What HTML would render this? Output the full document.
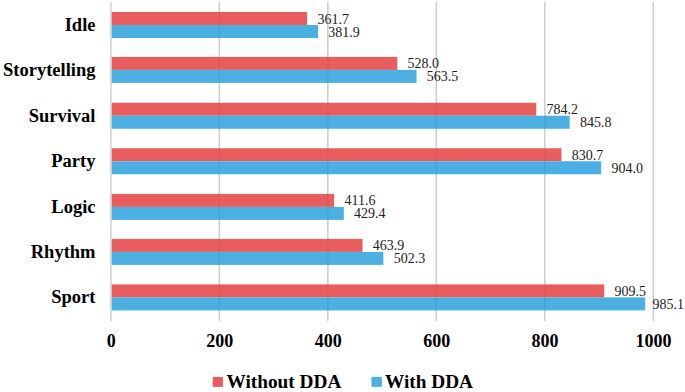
<!DOCTYPE html>
<html><head><meta charset="utf-8"><style>
html,body{margin:0;padding:0;background:#fff;}
body{width:685px;height:392px;overflow:hidden;}
svg{display:block;}
text{font-family:"Liberation Serif",serif;fill:#000;}
.cat{font-weight:bold;font-size:18.5px;text-anchor:end;}
.tick{font-weight:bold;font-size:18px;text-anchor:middle;}
.leg{font-weight:bold;font-size:19.3px;}
.dl{font-size:14px;fill:#222;}
</style></head><body>
<svg width="685" height="392" viewBox="0 0 685 392">
<rect x="218.63" y="2.0" width="1.5" height="319.0" fill="#D9D9D9"/>
<rect x="327.11" y="2.0" width="1.5" height="319.0" fill="#D9D9D9"/>
<rect x="435.59" y="2.0" width="1.5" height="319.0" fill="#D9D9D9"/>
<rect x="544.07" y="2.0" width="1.5" height="319.0" fill="#D9D9D9"/>
<rect x="652.55" y="2.0" width="1.5" height="319.0" fill="#D9D9D9"/>
<rect x="110.90" y="12.00" width="196.19" height="13.00" fill="#E95D5F"/>
<rect x="110.90" y="25.00" width="207.14" height="13.00" fill="#4CAFE1"/>
<rect x="110.90" y="56.90" width="286.39" height="13.00" fill="#E95D5F"/>
<rect x="110.90" y="69.90" width="305.64" height="13.00" fill="#4CAFE1"/>
<rect x="110.90" y="102.75" width="425.35" height="13.00" fill="#E95D5F"/>
<rect x="110.90" y="115.75" width="458.76" height="13.00" fill="#4CAFE1"/>
<rect x="110.90" y="148.25" width="450.57" height="13.00" fill="#E95D5F"/>
<rect x="110.90" y="161.25" width="490.33" height="13.00" fill="#4CAFE1"/>
<rect x="110.90" y="193.90" width="223.25" height="13.00" fill="#E95D5F"/>
<rect x="110.90" y="206.90" width="232.91" height="13.00" fill="#4CAFE1"/>
<rect x="110.90" y="238.90" width="251.62" height="13.00" fill="#E95D5F"/>
<rect x="110.90" y="251.90" width="272.45" height="13.00" fill="#4CAFE1"/>
<rect x="110.90" y="284.40" width="493.31" height="13.00" fill="#E95D5F"/>
<rect x="110.90" y="297.40" width="534.32" height="13.00" fill="#4CAFE1"/>
<rect x="218.63" y="2.0" width="1.5" height="319.0" fill="#000" fill-opacity="0.06"/>
<rect x="327.11" y="2.0" width="1.5" height="319.0" fill="#000" fill-opacity="0.06"/>
<rect x="435.59" y="2.0" width="1.5" height="319.0" fill="#000" fill-opacity="0.06"/>
<rect x="544.07" y="2.0" width="1.5" height="319.0" fill="#000" fill-opacity="0.06"/>
<rect x="652.55" y="2.0" width="1.5" height="319.0" fill="#000" fill-opacity="0.06"/>
<rect x="110.00" y="2.0" width="1.8" height="319.0" fill="#D9D9D9"/>
<text class="dl" x="317.39" y="23.50">361.7</text>
<text class="dl" x="328.34" y="36.50">381.9</text>
<text class="dl" x="407.59" y="68.40">528.0</text>
<text class="dl" x="426.84" y="81.40">563.5</text>
<text class="dl" x="546.55" y="114.25">784.2</text>
<text class="dl" x="579.96" y="127.25">845.8</text>
<text class="dl" x="571.77" y="159.75">830.7</text>
<text class="dl" x="611.53" y="172.75">904.0</text>
<text class="dl" x="344.45" y="205.40">411.6</text>
<text class="dl" x="354.11" y="218.40">429.4</text>
<text class="dl" x="372.82" y="250.40">463.9</text>
<text class="dl" x="393.65" y="263.40">502.3</text>
<text class="dl" x="614.51" y="295.90">909.5</text>
<text class="dl" x="652.50" y="308.90">985.1</text>
<text class="cat" x="95.5" y="31.00">Idle</text>
<text class="cat" x="95.5" y="75.90">Storytelling</text>
<text class="cat" x="95.5" y="121.75">Survival</text>
<text class="cat" x="95.5" y="167.25">Party</text>
<text class="cat" x="95.5" y="212.90">Logic</text>
<text class="cat" x="95.5" y="257.90">Rhythm</text>
<text class="cat" x="95.5" y="303.40">Sport</text>
<text class="tick" x="111.20" y="347">0</text>
<text class="tick" x="219.68" y="347">200</text>
<text class="tick" x="328.16" y="347">400</text>
<text class="tick" x="436.64" y="347">600</text>
<text class="tick" x="545.12" y="347">800</text>
<text class="tick" x="653.60" y="347">1000</text>
<rect x="212.7" y="376.9" width="10.2" height="10" fill="#E95D5F"/>
<text class="leg" x="226.5" y="388">Without DDA</text>
<rect x="371.5" y="376.9" width="10.4" height="10" fill="#4CAFE1"/>
<text class="leg" x="385" y="388">With DDA</text>
</svg>
</body></html>
